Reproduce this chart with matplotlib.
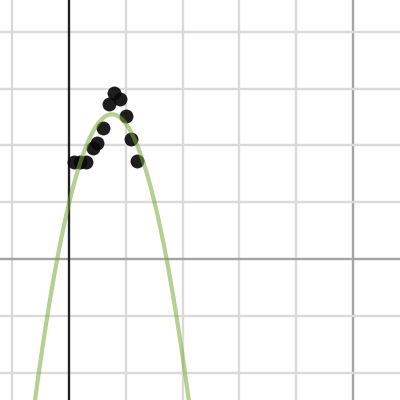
import numpy as np
import matplotlib
matplotlib.use("Agg")
import matplotlib.pyplot as plt

# data points
xs = [0.08, 0.19, 0.30, 0.42, 0.49, 0.60, 0.70, 0.79, 0.90, 1.00, 1.10, 1.19]
ys = [1.71, 1.71, 1.71, 1.95, 2.04, 2.31, 2.73, 2.93, 2.82, 2.52, 2.11, 1.72]

# fitted parabola y = k - a (x - h)^2
h, k, a = 0.755, 2.548, 2.748

fig = plt.figure(figsize=(4, 4), dpi=100)
ax = fig.add_axes([0, 0, 1, 1])
x0, x1 = -69 / 56.8, (400 - 69) / 56.8
y0, y1 = -(400 - 259) / 56.8, 259 / 56.8
ax.set_xlim(x0, x1)
ax.set_ylim(y0, y1)

for gx in range(-1, 6):
    if gx == 0:
        continue
    c = '#a4a4a4' if gx == 5 else '#dadada'
    ax.axvline(gx, color=c, lw=1.7, zorder=0)
for gy in range(-2, 5):
    c = '#a4a4a4' if gy == 0 else '#dadada'
    ax.axhline(gy, color=c, lw=1.7, zorder=0)
ax.axvline(0, color='#222222', lw=1.7, zorder=1)

ax.plot(xs, ys, 'o', color='#0a0a0a', ms=10, mec='none', alpha=0.92, zorder=2)

xx = np.linspace(x0, x1, 800)
ax.plot(xx, k - a * (xx - h) ** 2, color='#7aa83a', lw=3.0, alpha=0.55, zorder=3,
        solid_capstyle='round')

ax.set_axis_off()
fig.savefig('out.png', dpi=100, facecolor='white')
